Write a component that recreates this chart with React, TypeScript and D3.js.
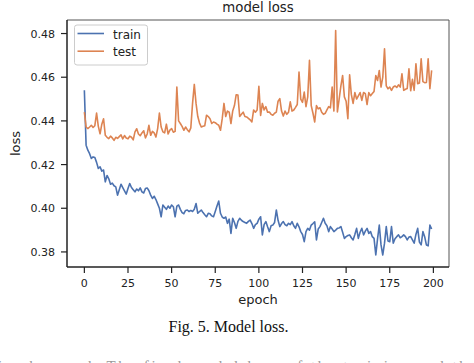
import React from "react";
import * as d3 from "d3";

// model loss per epoch
const trainLoss = [
  0.4540, 0.4289, 0.4266, 0.4250, 0.4228, 0.4235, 0.4232, 0.4210, 0.4182, 0.4190,
  0.4170, 0.4175, 0.4121, 0.4150, 0.4135, 0.4110, 0.4115, 0.4103, 0.4098, 0.4060,
  0.4085, 0.4110, 0.4095, 0.4080, 0.4065, 0.4090, 0.4113, 0.4095, 0.4085, 0.4075,
  0.4088, 0.4080, 0.4093, 0.4075, 0.4070, 0.4090, 0.4093, 0.4080, 0.4060, 0.4045,
  0.4055, 0.4040, 0.4020, 0.4000, 0.3961, 0.4015, 0.4005, 0.3995, 0.4010, 0.4000,
  0.4015, 0.4007, 0.3961, 0.4010, 0.4015, 0.3995, 0.3980, 0.3975, 0.3990, 0.3992,
  0.3985, 0.3990, 0.3985, 0.3995, 0.4022, 0.3977, 0.3985, 0.3992, 0.3980, 0.3970,
  0.3961, 0.3977, 0.3975, 0.3965, 0.3961, 0.3985, 0.4010, 0.4033, 0.3977, 0.3960,
  0.3954, 0.3960, 0.3931, 0.3950, 0.3885, 0.3954, 0.3935, 0.3908, 0.3940, 0.3954,
  0.3945, 0.3939, 0.3935, 0.3931, 0.3940, 0.3946, 0.3930, 0.3908, 0.3925, 0.3931,
  0.3950, 0.3961, 0.3878, 0.3925, 0.3939, 0.3915, 0.3893, 0.3920, 0.3923, 0.3935,
  0.3992, 0.3945, 0.3916, 0.3930, 0.3939, 0.3925, 0.3920, 0.3931, 0.3925, 0.3939,
  0.3920, 0.3908, 0.3931, 0.3915, 0.3893, 0.3880, 0.3847, 0.3893, 0.3908, 0.3900,
  0.3923, 0.3930, 0.3938, 0.3855, 0.3905, 0.3916, 0.3935, 0.3954, 0.3931, 0.3920,
  0.3893, 0.3916, 0.3905, 0.3893, 0.3900, 0.3908, 0.3910, 0.3916, 0.3890, 0.3862,
  0.3870, 0.3875, 0.3878, 0.3865, 0.3855, 0.3880, 0.3908, 0.3862, 0.3890, 0.3908,
  0.3878, 0.3895, 0.3908, 0.3885, 0.3893, 0.3870, 0.3862, 0.3786, 0.3860, 0.3923,
  0.3832, 0.3786, 0.3840, 0.3916, 0.3850, 0.3847, 0.3916, 0.3840, 0.3860, 0.3870,
  0.3878, 0.3865, 0.3870, 0.3878, 0.3870, 0.3855, 0.3868, 0.3870, 0.3855, 0.3840,
  0.3880, 0.3908, 0.3845, 0.3832, 0.3893, 0.3870, 0.3832, 0.3828, 0.3923, 0.3905,
];

const testLoss = [
  0.4440, 0.4372, 0.4365, 0.4372, 0.4380, 0.4370, 0.4378, 0.4436, 0.4375, 0.4341,
  0.4385, 0.4410, 0.4334, 0.4325, 0.4319, 0.4330, 0.4322, 0.4311, 0.4325, 0.4320,
  0.4328, 0.4336, 0.4318, 0.4333, 0.4322, 0.4318, 0.4330, 0.4325, 0.4313, 0.4350,
  0.4364, 0.4340, 0.4332, 0.4345, 0.4355, 0.4322, 0.4340, 0.4380, 0.4334, 0.4352,
  0.4345, 0.4326, 0.4365, 0.4436, 0.4372, 0.4350, 0.4345, 0.4385, 0.4340, 0.4358,
  0.4365, 0.4348, 0.4352, 0.4555, 0.4400, 0.4388, 0.4375, 0.4357, 0.4372, 0.4360,
  0.4350, 0.4368, 0.4480, 0.4567, 0.4480, 0.4420, 0.4390, 0.4372, 0.4375, 0.4378,
  0.4426, 0.4420, 0.4410, 0.4388, 0.4395, 0.4392, 0.4385, 0.4380, 0.4357, 0.4410,
  0.4480, 0.4420, 0.4445, 0.4440, 0.4388, 0.4445, 0.4470, 0.4520, 0.4518, 0.4420,
  0.4430, 0.4440, 0.4420, 0.4418, 0.4412, 0.4405, 0.4395, 0.4450, 0.4440, 0.4450,
  0.4558, 0.4425, 0.4480, 0.4450, 0.4465, 0.4440, 0.4441, 0.4430, 0.4426, 0.4435,
  0.4440, 0.4490, 0.4502, 0.4445, 0.4422, 0.4445, 0.4430, 0.4440, 0.4487, 0.4445,
  0.4450, 0.4462, 0.4475, 0.4624, 0.4500, 0.4485, 0.4532, 0.4465, 0.4510, 0.4677,
  0.4470, 0.4435, 0.4395, 0.4470, 0.4455, 0.4460, 0.4440, 0.4430, 0.4435, 0.4450,
  0.4465, 0.4460, 0.4555, 0.4445, 0.4814, 0.4441, 0.4500, 0.4560, 0.4608, 0.4510,
  0.4490, 0.4410, 0.4611, 0.4520, 0.4480, 0.4530, 0.4500, 0.4515, 0.4530, 0.4494,
  0.4530, 0.4525, 0.4475, 0.4530, 0.4515, 0.4525, 0.4535, 0.4608, 0.4585, 0.4631,
  0.4555, 0.4600, 0.4730, 0.4560, 0.4547, 0.4555, 0.4540, 0.4555, 0.4560, 0.4553,
  0.4565, 0.4555, 0.4616, 0.4540, 0.4545, 0.4548, 0.4639, 0.4538, 0.4590, 0.4540,
  0.4662, 0.4570, 0.4573, 0.4684, 0.4580, 0.4575, 0.4576, 0.4684, 0.4547, 0.4631,
];

const xTicks = [0, 25, 50, 75, 100, 125, 150, 175, 200];
const yTicks = [0.38, 0.40, 0.42, 0.44, 0.46, 0.48];
const seriesNames = ["train", "test"];
const seriesColors = ["#4c72b0", "#dd8452"];

const W = 474;
const H = 363;
const box = { left: 67, right: 449, top: 20, bottom: 267 };
const sans = "'DejaVu Sans', sans-serif";
const serif = "'Liberation Serif', 'Times New Roman', serif";

export default function App() {
  const x = d3.scaleLinear().domain([-9.95, 208.95]).range([box.left, box.right]);
  const y = d3.scaleLinear().domain([0.3731, 0.4862]).range([box.bottom, box.top]);

  const line = d3
    .line<number>()
    .x((_, i) => x(i))
    .y((d) => y(d));

  const series = [trainLoss, testLoss];
  const midX = (box.left + box.right) / 2;
  const midY = (box.top + box.bottom) / 2;

  return (
    <div style={{ position: "fixed", left: 0, top: 0 }}>
      <svg width={W} height={H} style={{ display: "block", background: "#fff" }}>
        <text x={midX} y={12} textAnchor="middle" fontFamily={sans} fontSize={13.3} fill="#222">
          model loss
        </text>

        <g>
          {series.map((s, i) => (
            <path
              key={seriesNames[i]}
              d={line(s) || ""}
              fill="none"
              stroke={seriesColors[i]}
              strokeWidth={1.6}
              strokeLinejoin="round"
            />
          ))}
        </g>

        {/* spines */}
        <line x1={box.left} x2={box.right} y1={box.top} y2={box.top} stroke="#555" strokeWidth={1} />
        <line x1={box.right} x2={box.right} y1={box.top} y2={box.bottom} stroke="#555" strokeWidth={1} />
        <line x1={box.left} x2={box.left} y1={box.top} y2={box.bottom} stroke="#222" strokeWidth={1.5} />
        <line x1={box.left} x2={box.right} y1={box.bottom} y2={box.bottom} stroke="#222" strokeWidth={1.5} />

        {/* y axis */}
        {yTicks.map((t) => (
          <g key={t}>
            <line x1={box.left - 6} x2={box.left} y1={y(t)} y2={y(t)} stroke="#222" strokeWidth={1.2} />
            <text
              x={box.left - 12}
              y={y(t)}
              dy="0.36em"
              textAnchor="end"
              fontFamily={sans}
              fontSize={11}
              fill="#222"
            >
              {d3.format(".2f")(t)}
            </text>
          </g>
        ))}
        <text
          transform={`translate(20,${midY}) rotate(-90)`}
          textAnchor="middle"
          fontFamily={sans}
          fontSize={13}
          fill="#222"
        >
          loss
        </text>

        {/* x axis */}
        {xTicks.map((t) => (
          <g key={t}>
            <line x1={x(t)} x2={x(t)} y1={box.bottom} y2={box.bottom + 6} stroke="#222" strokeWidth={1.2} />
            <text x={x(t)} y={287} textAnchor="middle" fontFamily={sans} fontSize={11} fill="#222">
              {t}
            </text>
          </g>
        ))}
        <text x={midX} y={304} textAnchor="middle" fontFamily={sans} fontSize={13} fill="#222">
          epoch
        </text>

        {/* legend */}
        <rect x={74.5} y={25} width={73} height={40} rx={2.5} fill="#fff" fillOpacity={0.85} stroke="#ccc" />
        {seriesNames.map((n, i) => (
          <g key={n}>
            <line
              x1={77.5}
              x2={104}
              y1={33.5 + i * 17.7}
              y2={33.5 + i * 17.7}
              stroke={seriesColors[i]}
              strokeWidth={1.6}
            />
            <text x={113} y={38.5 + i * 17.7} fontFamily={sans} fontSize={12} fill="#222">
              {n}
            </text>
          </g>
        ))}

        {/* caption */}
        <text x={228.5} y={332} textAnchor="middle" fontFamily={serif} fontSize={16} fill="#111">
          Fig. 5. Model loss.
        </text>
        <text x={-2} y={371} fontFamily={serif} fontSize={15} fill="#9a9a9a" textLength={478}>
          is observed. The final model loss of the training and the
        </text>
      </svg>
    </div>
  );
}
